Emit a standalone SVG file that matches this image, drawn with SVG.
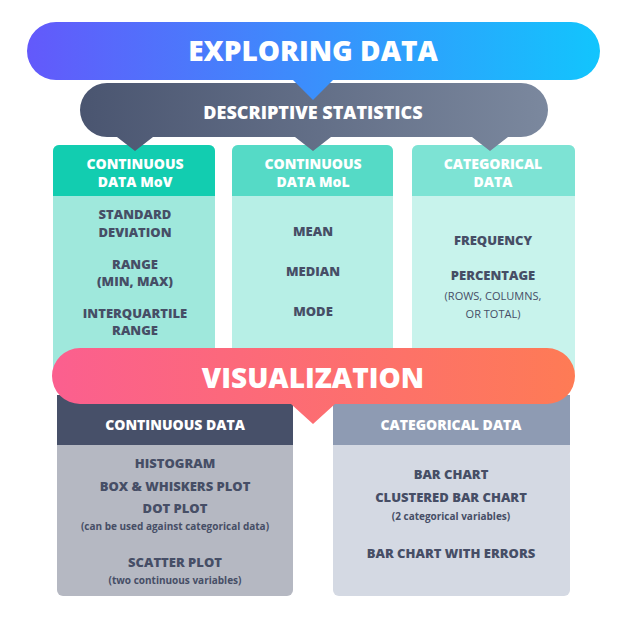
<svg xmlns="http://www.w3.org/2000/svg" width="625" height="624" viewBox="0 0 625 624">
<defs>
<linearGradient id="gTop" x1="0" x2="1" y1="0" y2="0"><stop offset="0" stop-color="#6359fb"/><stop offset="1" stop-color="#12c5fd"/></linearGradient>
<linearGradient id="gDesc" x1="0" x2="1" y1="0" y2="0"><stop offset="0" stop-color="#4a5570"/><stop offset="1" stop-color="#7b889e"/></linearGradient>
<linearGradient id="gVis" x1="0" x2="1" y1="0" y2="0"><stop offset="0" stop-color="#fb5f8f"/><stop offset="1" stop-color="#fe7b55"/></linearGradient>
<style>
text{font-family:"Open Sans","Liberation Sans",sans-serif;font-weight:800;text-anchor:middle}
.w{fill:#fff}
.d{fill:#464e66;font-size:13px}
.s{fill:#464e66;font-size:10px;font-weight:700}
.h{fill:#fff;font-size:14px}
</style>
</defs>
<g id="col1"><rect x="53" y="145" width="162" height="230" rx="6" fill="#9fe8dc"/><path d="M53 196V151a6 6 0 0 1 6-6h150a6 6 0 0 1 6 6v45z" fill="#12cdb0"/>
<text class="h" x="135" y="169">CONTINUOUS</text><text class="h" x="135" y="187">DATA MoV</text>
<text class="d" x="135" y="219">STANDARD</text><text class="d" x="135" y="237">DEVIATION</text>
<text class="d" x="135" y="269">RANGE</text><text class="d" x="135" y="286">(MIN, MAX)</text>
<text class="d" x="135" y="318">INTERQUARTILE</text><text class="d" x="135" y="335">RANGE</text></g>
<g id="col2"><rect x="232" y="145" width="161" height="230" rx="6" fill="#b7efe6"/><path d="M232 196V151a6 6 0 0 1 6-6h149a6 6 0 0 1 6 6v45z" fill="#55dac6"/>
<text class="h" x="313" y="169">CONTINUOUS</text><text class="h" x="313" y="187">DATA MoL</text>
<text class="d" x="313" y="236">MEAN</text><text class="d" x="313" y="276">MEDIAN</text><text class="d" x="313" y="316">MODE</text></g>
<g id="col3"><rect x="412" y="145" width="163" height="230" rx="6" fill="#c8f3ec"/><path d="M412 196V151a6 6 0 0 1 6-6h151a6 6 0 0 1 6 6v45z" fill="#7de3d4"/>
<text class="h" x="493" y="169">CATEGORICAL</text><text class="h" x="493" y="187">DATA</text>
<text class="d" x="493" y="245">FREQUENCY</text><text class="d" x="493" y="280">PERCENTAGE</text>
<text class="s" x="493" y="300" style="font-size:11px;font-weight:400">(ROWS, COLUMNS,</text><text class="s" x="493" y="318" style="font-size:11px;font-weight:400">OR TOTAL)</text></g>
<g id="descriptive"><path d="M107 83H521a27 27 0 0 1 0 54H508L490 151L472 137H331L313 151L295 137H153L135 151L117 137H107a27 27 0 0 1 0-54z" fill="url(#gDesc)"/>
<text class="w" x="313" y="119" style="font-size:18px">DESCRIPTIVE STATISTICS</text></g>
<g id="exploring"><path d="M56 22H571a29 29 0 0 1 0 58H333L313 100L293 80H56a29 29 0 0 1 0-58z" fill="url(#gTop)"/>
<text class="w" x="313" y="61" style="font-size:28px">EXPLORING DATA</text></g>
<g id="contPanel"><rect x="57" y="395" width="236" height="201" rx="6" fill="#b5b8c2"/><rect x="57" y="395" width="236" height="50" fill="#475069"/>
<text class="h" x="175" y="430">CONTINUOUS DATA</text>
<text class="d" x="175" y="468">HISTOGRAM</text><text class="d" x="175" y="491">BOX &amp; WHISKERS PLOT</text><text class="d" x="175" y="513">DOT PLOT</text>
<text class="s" x="175" y="530">(can be used against categorical data)</text>
<text class="d" x="175" y="567">SCATTER PLOT</text><text class="s" x="175" y="584">(two continuous variables)</text></g>
<g id="catPanel"><rect x="333" y="395" width="237" height="201" rx="6" fill="#d4d9e3"/><rect x="333" y="395" width="237" height="50" fill="#8e9bb3"/>
<text class="h" x="451" y="430">CATEGORICAL DATA</text>
<text class="d" x="451" y="479">BAR CHART</text><text class="d" x="451" y="502">CLUSTERED BAR CHART</text>
<text class="s" x="451" y="520">(2 categorical variables)</text><text class="d" x="451" y="558">BAR CHART WITH ERRORS</text></g>
<g id="visualization"><path d="M80 348H547a28 28 0 0 1 0 56H335L313 424L291 404H80a28 28 0 0 1 0-56z" fill="url(#gVis)"/>
<text class="w" x="313" y="388" style="font-size:28px">VISUALIZATION</text></g>
<g id="connectors"></g>
</svg>
